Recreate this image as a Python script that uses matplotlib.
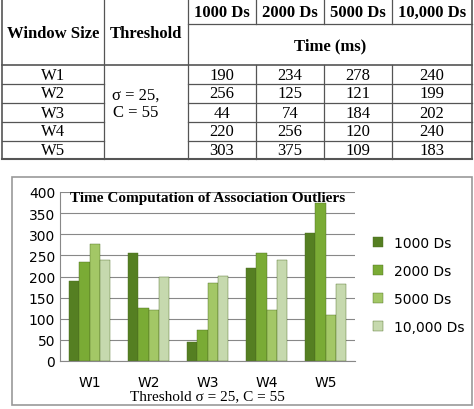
import matplotlib.pyplot as plt
import numpy as np
from matplotlib.patches import Rectangle

windows = ["W1", "W2", "W3", "W4", "W5"]
series = ["1000 Ds", "2000 Ds", "5000 Ds", "10,000 Ds"]
t1000 = [190, 256, 44, 220, 303]
t2000 = [234, 125, 74, 256, 375]
t5000 = [278, 121, 184, 120, 109]
t10000 = [240, 199, 202, 240, 183]
values = [t1000, t2000, t5000, t10000]
colors = ["#557f22", "#7aab35", "#a3c766", "#c6d9ae"]

W, H = 474, 410
fig = plt.figure(figsize=(W / 100, H / 100), dpi=100)
bg = fig.add_axes([0, 0, 1, 1])
bg.set_xlim(0, W)
bg.set_ylim(H, 0)
bg.axis("off")

serif = "Liberation Serif"
# table grid
cols = [2, 104, 188, 256, 324, 392, 472]
rows = [66, 85, 104, 123, 142, 160]
lc = "#555555"
for x in cols:
    if x in (256, 324, 392):
        bg.plot([x, x], [0, 25], color=lc, lw=0.9)
        bg.plot([x, x], [66, 160], color=lc, lw=0.9)
    else:
        bg.plot([x, x], [0, 160], color=lc, lw=1.2 if x in (2, 472) else 0.9)
bg.plot([188, 472], [25, 25], color=lc, lw=0.9)
bg.plot([2, 472], [66, 66], color=lc, lw=1.2)
for y in rows[1:-1]:
    bg.plot([2, 104], [y, y], color=lc, lw=0.9)
    bg.plot([188, 472], [y, y], color=lc, lw=0.9)
bg.plot([2, 472], [160, 160], color=lc, lw=1.5)

fs = 12
bg.text(53, 34, "Window Size", ha="center", va="center", fontsize=fs, fontweight="bold", family=serif)
bg.text(146, 34, "Threshold", ha="center", va="center", fontsize=fs, fontweight="bold", family=serif)
for i, s in enumerate(series):
    bg.text((cols[i + 2] + cols[i + 3]) / 2, 13, s, ha="center", va="center",
            fontsize=fs, fontweight="bold", family=serif)
bg.text(330, 46, "Time (ms)", ha="center", va="center", fontsize=fs, fontweight="bold", family=serif)
bg.text(136, 104, "σ = 25,\nC = 55", ha="center", va="center", fontsize=fs, family=serif, linespacing=1.1)
for r, w in enumerate(windows):
    yc = (rows[r] + rows[r + 1]) / 2
    bg.text(53, yc, w, ha="center", va="center", fontsize=fs, family=serif)
    for c in range(4):
        bg.text((cols[c + 2] + cols[c + 3]) / 2, yc, str(values[c][r]),
                ha="center", va="center", fontsize=fs, family=serif)

# chart border
bg.add_patch(Rectangle((12, 178), 460, 228, fill=False, edgecolor="#999999", lw=1.2))

ax = fig.add_axes([60 / W, (H - 362) / H, 295 / W, 169 / H])
x = np.arange(len(windows))
bw = 0.17
for i, (s, v) in enumerate(zip(series, values)):
    ax.bar(x + (i - 1.5) * bw, v, bw, color=colors[i], label=s,
           edgecolor="#4a6a20", linewidth=0.3)
ax.set_ylim(0, 400)
ax.set_xlim(-0.5, 4.5)
ax.set_yticks(range(0, 401, 50))
ax.set_xticks(x)
ax.set_xticklabels(windows)
ax.tick_params(labelsize=10, length=0)
ax.tick_params(axis="x", pad=10)
ax.grid(axis="y", color="#888888", lw=0.8)
ax.set_axisbelow(True)
for sp in ["top", "right"]:
    ax.spines[sp].set_visible(False)
ax.spines["left"].set_color("#888888")
ax.spines["bottom"].set_color("#888888")
ax.set_title("Time Computation of Association Outliers", fontsize=11,
             fontweight="bold", family=serif, y=0.9)
ax.set_xlabel("Threshold σ = 25, C = 55", fontsize=11, family=serif, labelpad=0)
ax.legend(loc="center left", bbox_to_anchor=(1.02, 0.45), frameon=False,
          fontsize=10, handlelength=0.7, handleheight=0.7, labelspacing=1.0)

fig.savefig("out.png", dpi=100)
